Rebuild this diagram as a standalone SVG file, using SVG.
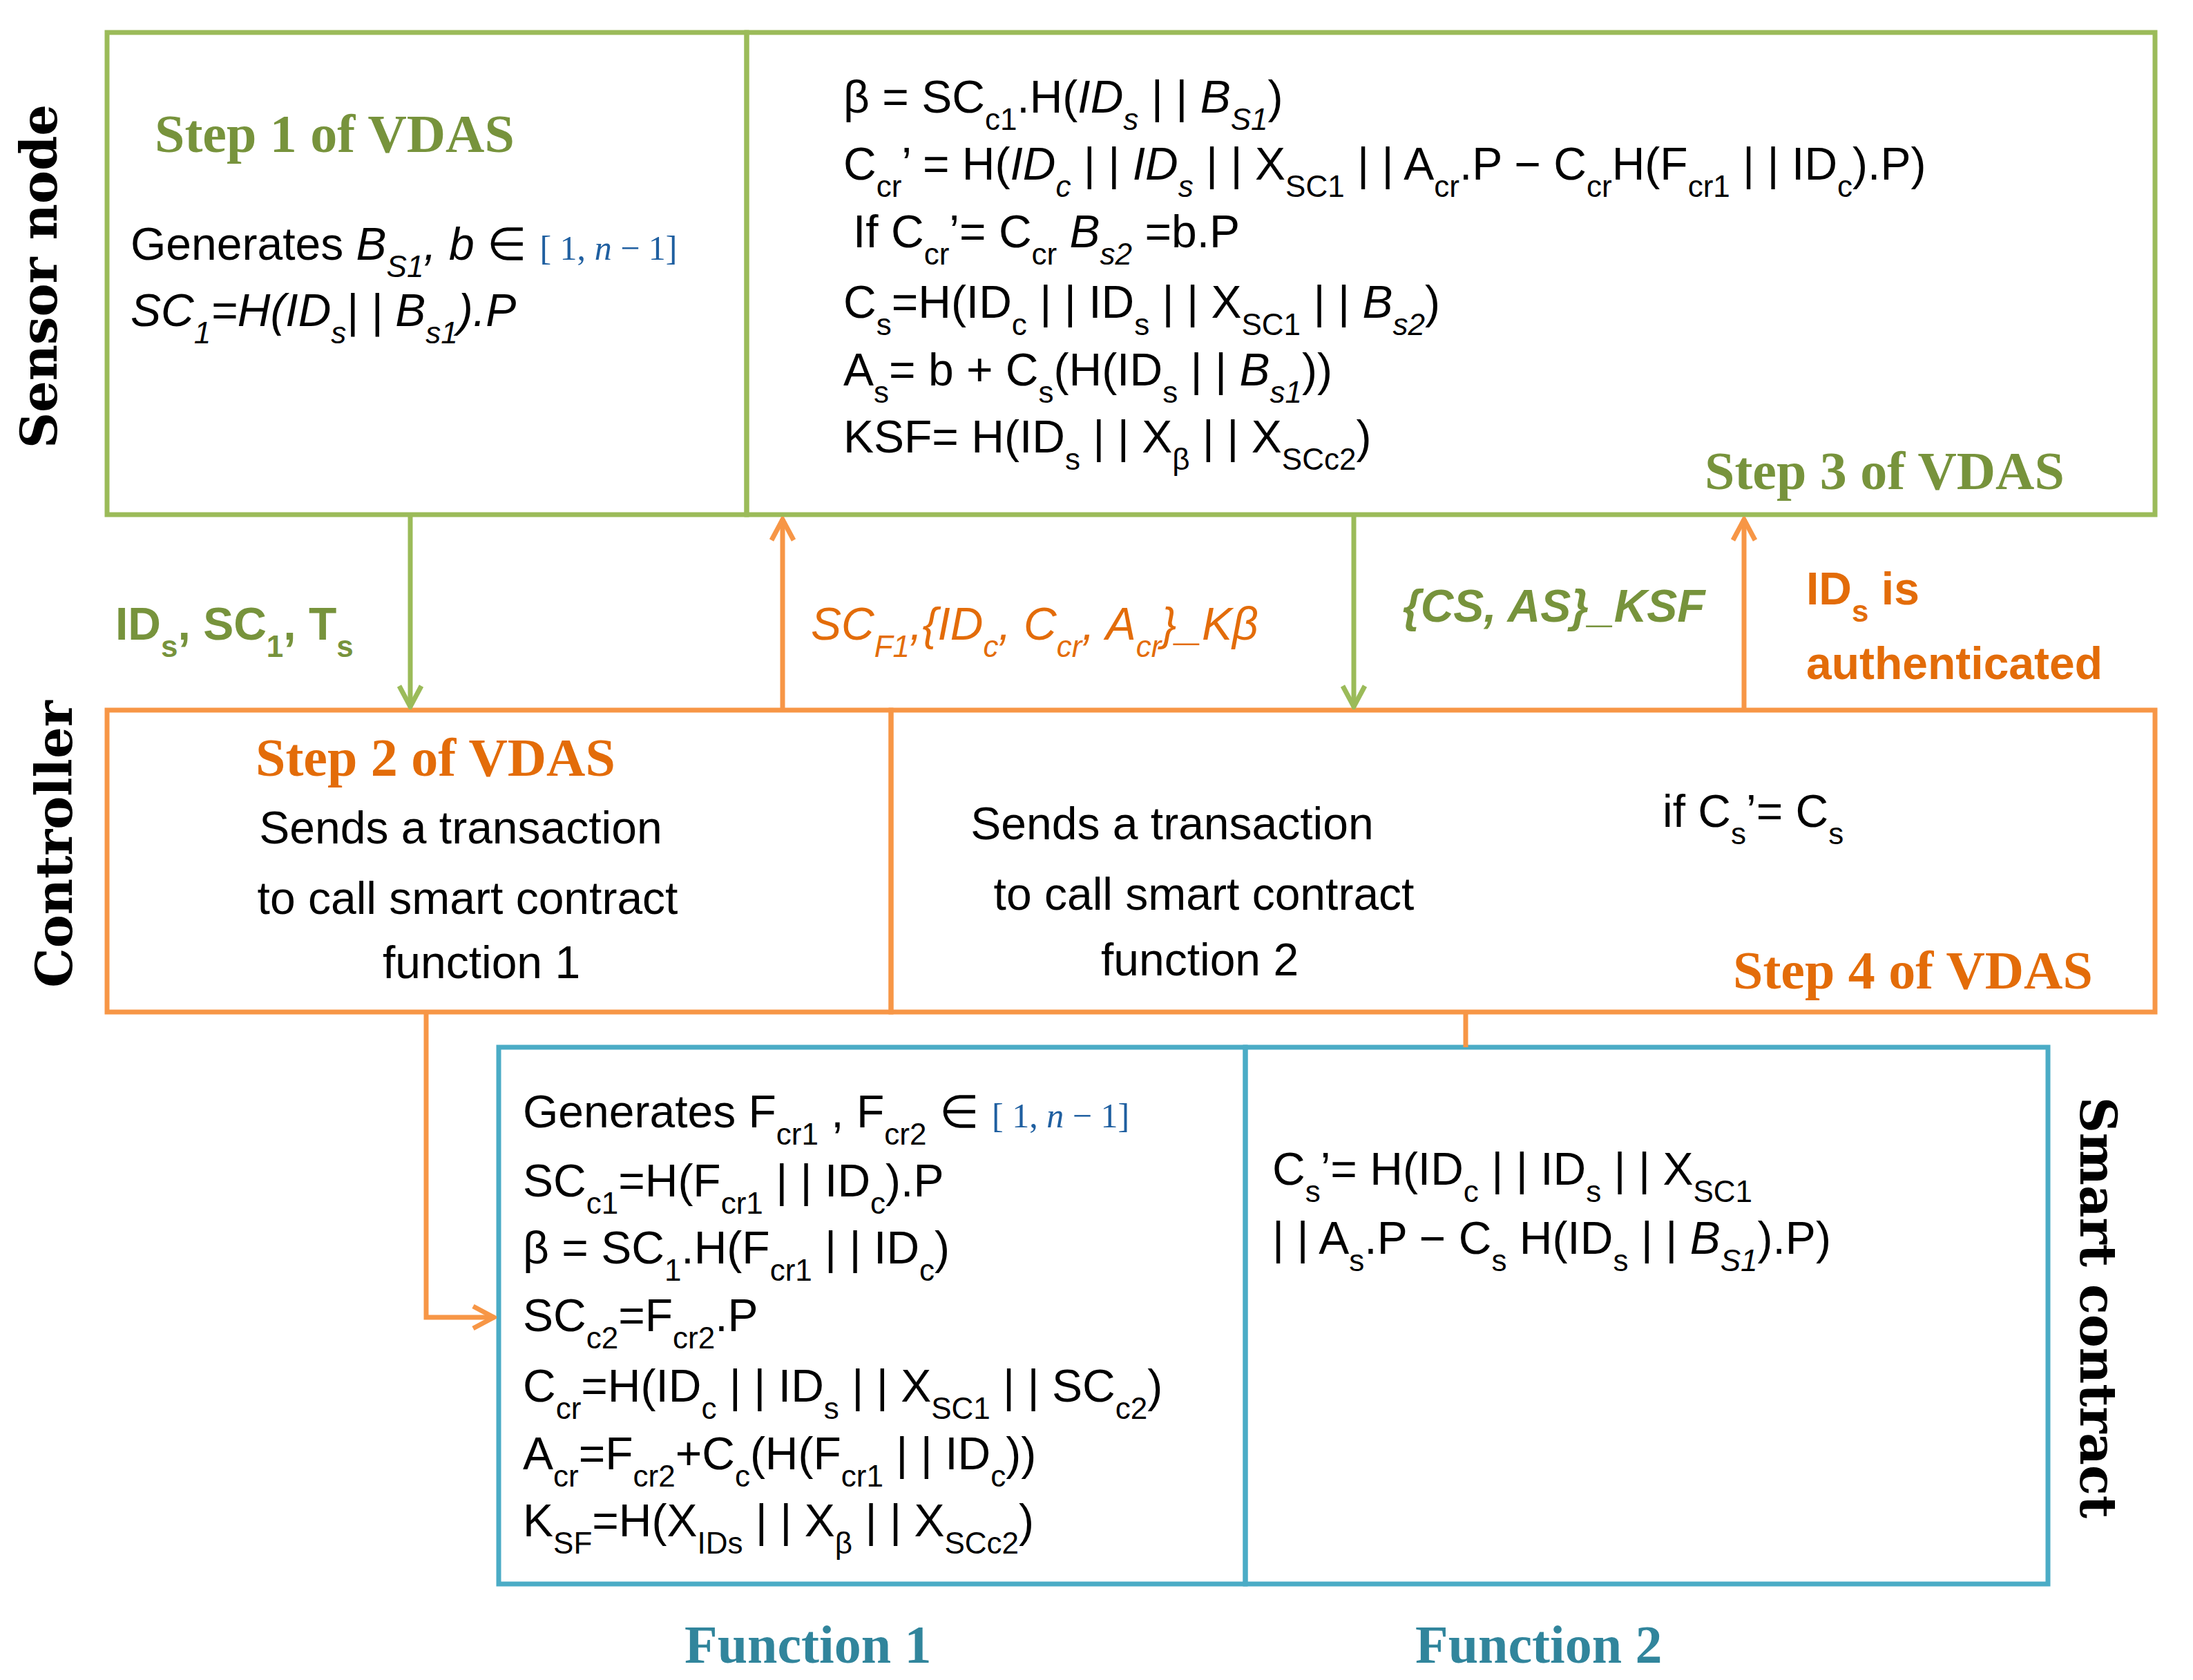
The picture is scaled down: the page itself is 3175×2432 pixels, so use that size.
<svg xmlns="http://www.w3.org/2000/svg" width="3175" height="2432" viewBox="0 0 3175 2432">
<defs>
<style>
.g{fill:none;stroke:#9BBB59;stroke-width:7}
.o{fill:none;stroke:#F79646;stroke-width:7}
.b{fill:none;stroke:#4BACC6;stroke-width:7}
text{font-family:"Liberation Sans Narrow","Liberation Sans",sans-serif;font-size:66px;fill:#000}
.t{font-family:"Liberation Serif",serif;font-weight:bold;font-size:78px}
.tg{fill:#77933C}.to{fill:#E36C09}.tb{fill:#31859C}
.s{font-size:44px;baseline-shift:sub}
.i{font-style:italic}
.side{font-family:"DejaVu Serif","Liberation Serif",serif;font-weight:bold;font-size:72px}
.r{font-family:"Liberation Serif",serif;fill:#1F5FA0;font-size:50px}
</style>
<marker id="ag" viewBox="0 0 40 40" refX="37" refY="20" markerWidth="40" markerHeight="40" markerUnits="userSpaceOnUse" orient="auto"><path d="M6,4 L36,20 L6,36" fill="none" stroke="#9BBB59" stroke-width="7"/></marker>
<marker id="ao" viewBox="0 0 40 40" refX="37" refY="20" markerWidth="40" markerHeight="40" markerUnits="userSpaceOnUse" orient="auto"><path d="M6,4 L36,20 L6,36" fill="none" stroke="#F79646" stroke-width="7"/></marker>
</defs>
<rect width="3175" height="2432" fill="#fff"/>
<g id="labels">
<text class="side" transform="translate(82,400) rotate(-90)" text-anchor="middle">Sensor node</text>
<text class="side" transform="translate(104,1222) rotate(-90)" text-anchor="middle">Controller</text>
<text class="side" transform="translate(3012,1893) rotate(90)" text-anchor="middle">Smart contract</text>
</g>
<g id="step1">
<rect class="g" x="155" y="47" width="926" height="698"/>
<text class="t tg" x="224" y="220">Step 1 of VDAS</text>
<text x="189" y="376">Generates <tspan class="i">B<tspan class="s">S1</tspan></tspan><tspan class="i">, b</tspan> ∈ <tspan class="r">[ 1, <tspan class="i">n</tspan> − 1]</tspan></text>
<text class="i" x="189" y="472">SC<tspan class="s">1</tspan>=H(ID<tspan class="s">s</tspan>| | B<tspan class="s">s1</tspan>).P</text>
</g>
<g id="step3">
<rect class="g" x="1081" y="47" width="2039" height="698"/>
<text x="1221" y="163">β = SC<tspan class="s">c1</tspan>.H(<tspan class="i">ID<tspan class="s">s</tspan></tspan> | |   <tspan class="i">B<tspan class="s">S1</tspan></tspan>)</text>
<text x="1221" y="260">C<tspan class="s">cr</tspan>’ = H(<tspan class="i">ID<tspan class="s">c</tspan></tspan>  | | <tspan class="i">ID<tspan class="s">s</tspan></tspan>  | | X<tspan class="s">SC1</tspan> | |  A<tspan class="s">cr</tspan>.P − C<tspan class="s">cr</tspan>H(F<tspan class="s">cr1</tspan>  | | ID<tspan class="s">c</tspan>).P)</text>
<text x="1235" y="358">If C<tspan class="s">cr</tspan>’= C<tspan class="s">cr</tspan>  <tspan class="i">B<tspan class="s">s2</tspan></tspan> =b.P</text>
<text x="1221" y="460">C<tspan class="s">s</tspan>=H(ID<tspan class="s">c</tspan>  | | ID<tspan class="s">s</tspan>  | | X<tspan class="s">SC1</tspan>   | | <tspan class="i">B<tspan class="s">s2</tspan></tspan>)</text>
<text x="1221" y="558">A<tspan class="s">s</tspan>= b + C<tspan class="s">s</tspan>(H(ID<tspan class="s">s</tspan>  | | <tspan class="i">B<tspan class="s">s1</tspan></tspan>))</text>
<text x="1221" y="655">KSF= H(ID<tspan class="s">s</tspan>  | | X<tspan class="s">β</tspan>  | | X<tspan class="s">SCc2</tspan>)</text>
<text class="t tg" x="2468" y="708">Step 3 of VDAS</text>
</g>
<g id="step2">
<rect class="o" x="155" y="1028" width="1135" height="437"/>
<text class="t to" x="370" y="1123">Step 2 of VDAS</text>
<text x="667" y="1221" text-anchor="middle">Sends a transaction</text>
<text x="677" y="1323" text-anchor="middle">to call smart contract</text>
<text x="697" y="1416" text-anchor="middle">function   1</text>
</g>
<g id="step4">
<rect class="o" x="1290" y="1028" width="1830" height="437"/>
<text x="1697" y="1215" text-anchor="middle">Sends a transaction</text>
<text x="1743" y="1317" text-anchor="middle">to call smart contract</text>
<text x="1737" y="1412" text-anchor="middle">function  2</text>
<text x="2407" y="1197">if C<tspan class="s">s</tspan>’= C<tspan class="s">s</tspan></text>
<text class="t to" x="2509" y="1431">Step 4 of VDAS</text>
</g>
<g id="function1">
<rect class="b" x="722" y="1516" width="1081" height="777"/>
<text x="757" y="1632">Generates F<tspan class="s">cr1</tspan> , F<tspan class="s">cr2</tspan> ∈ <tspan class="r">[ 1, <tspan class="i">n</tspan> − 1]</tspan></text>
<text x="757" y="1732">SC<tspan class="s">c1</tspan>=H(F<tspan class="s">cr1</tspan> | | ID<tspan class="s">c</tspan>).P</text>
<text x="757" y="1829">β = SC<tspan class="s">1</tspan>.H(F<tspan class="s">cr1</tspan> | | ID<tspan class="s">c</tspan>)</text>
<text x="757" y="1927">SC<tspan class="s">c2</tspan>=F<tspan class="s">cr2</tspan>.P</text>
<text x="757" y="2029">C<tspan class="s">cr</tspan>=H(ID<tspan class="s">c</tspan> | | ID<tspan class="s">s</tspan>  | | X<tspan class="s">SC1</tspan> | | SC<tspan class="s">c2</tspan>)</text>
<text x="757" y="2127">A<tspan class="s">cr</tspan>=F<tspan class="s">cr2</tspan>+C<tspan class="s">c</tspan>(H(F<tspan class="s">cr1</tspan>  | | ID<tspan class="s">c</tspan>))</text>
<text x="757" y="2224">K<tspan class="s">SF</tspan>=H(X<tspan class="s">IDs</tspan> | | X<tspan class="s">β</tspan> | | X<tspan class="s">SCc2</tspan>)</text>
<text class="t tb" x="991" y="2407">Function 1</text>
</g>
<g id="function2">
<rect class="b" x="1803" y="1516" width="1162" height="777"/>
<text x="1842" y="1715">C<tspan class="s">s</tspan>’= H(ID<tspan class="s">c</tspan>  | | ID<tspan class="s">s</tspan>  | | X<tspan class="s">SC1</tspan></text>
<text x="1842" y="1815">| | A<tspan class="s">s</tspan>.P  −  C<tspan class="s">s</tspan> H(ID<tspan class="s">s</tspan>   | | <tspan class="i">B<tspan class="s">S1</tspan></tspan>).P)</text>
<text class="t tb" x="2049" y="2407">Function 2</text>
</g>
<g id="connectors">
<line class="g" x1="594" y1="745" x2="594" y2="1024" marker-end="url(#ag)"/>
<line class="o" x1="1133" y1="1028" x2="1133" y2="751" marker-end="url(#ao)"/>
<line class="g" x1="1960" y1="745" x2="1960" y2="1024" marker-end="url(#ag)"/>
<line class="o" x1="2525" y1="1028" x2="2525" y2="751" marker-end="url(#ao)"/>
<polyline class="o" points="617,1465 617,1907 716,1907" marker-end="url(#ao)"/>
<line class="o" x1="2122" y1="1465" x2="2122" y2="1516"/>
<text class="tg" x="167" y="926" font-weight="bold">ID<tspan class="s">s</tspan>, SC<tspan class="s">1</tspan>, T<tspan class="s">s</tspan></text>
<text class="to i" x="1174" y="926">SC<tspan class="s">F1</tspan>,{ID<tspan class="s">c</tspan>, C<tspan class="s">cr</tspan>, A<tspan class="s">cr</tspan>}_Kβ</text>
<text class="tg i" x="2031" y="900" font-weight="bold">{CS, AS}_KSF</text>
<text class="to" x="2615" y="875" font-weight="bold">ID<tspan class="s">s</tspan>  is</text>
<text class="to" x="2615" y="983" font-weight="bold">authenticated</text>
</g>
</svg>
